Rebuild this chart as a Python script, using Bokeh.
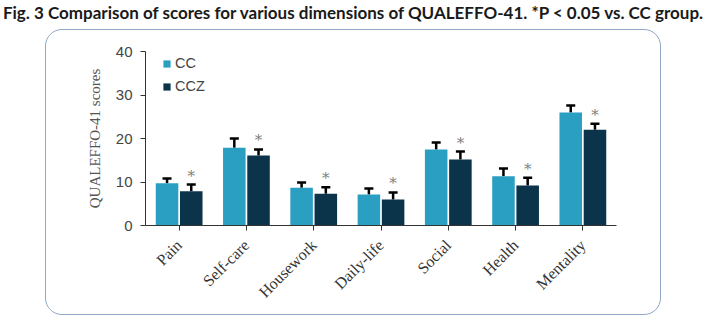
from bokeh.plotting import figure
from bokeh.models import (ColumnDataSource, FactorRange, Range1d, Whisker, TeeHead,
                          Legend, LegendItem, FixedTicker, Div)
from bokeh.layouts import column
from bokeh.transform import dodge
from bokeh.core.properties import value
from bokeh.embed import file_html
from bokeh.resources import INLINE
import math
import html

# ---- data ----
categories = ["Pain", "Self-care", "Housework", "Daily-life", "Social", "Health", "Mentality"]
cc_mean = [9.7, 17.9, 8.7, 7.1, 17.5, 11.3, 26.0]
cc_err_top = [10.8, 20.0, 9.9, 8.5, 19.1, 13.1, 27.6]
ccz_mean = [7.9, 16.1, 7.3, 6.0, 15.2, 9.2, 22.0]
ccz_err_top = [9.4, 17.5, 8.8, 7.6, 17.0, 11.0, 23.4]
series_names = ["CC", "CCZ"]
y_ticks = [0, 10, 20, 30, 40]
title_text = "Fig. 3 Comparison of scores for various dimensions of QUALEFFO-41. *P < 0.05 vs. CC group."
y_label = "QUALEFFO-41 scores"

CC_COLOR = "#2a9fc1"
CCZ_COLOR = "#0b344b"

src = ColumnDataSource(dict(cat=categories, cc=cc_mean, cc_top=cc_err_top,
                            ccz=ccz_mean, ccz_top=ccz_err_top,
                            star=["*"] * len(categories)))

W, H = 706, 329
BOX_L, BOX_R, BOX_T, BOX_B = 46, 660, 30, 314
FR_L, FR_R, FR_T, FR_B = 145, 616, 51, 225
PW, PH = BOX_R - BOX_L, BOX_B - BOX_T

p = figure(width=PW, height=PH, x_range=FactorRange(factors=categories),
           y_range=Range1d(0, 40), output_backend="svg", toolbar_location=None,
           min_border_left=FR_L - BOX_L, min_border_right=BOX_R - FR_R,
           min_border_top=FR_T - BOX_T, min_border_bottom=BOX_B - FR_B,
           margin=(0, W - BOX_R, 0, BOX_L),
           styles={"outline": "1.5px solid #8ea7c6", "border-radius": "16px"})
p.outline_line_color = None
p.xgrid.grid_line_color = None
p.ygrid.grid_line_color = None
p.background_fill_color = None
p.border_fill_color = None

off = 0.18
bw = 0.335
r1 = p.vbar(x=dodge("cat", -off, range=p.x_range), top="cc", width=bw, source=src,
            fill_color=CC_COLOR, line_color=None)
r2 = p.vbar(x=dodge("cat", off, range=p.x_range), top="ccz", width=bw, source=src,
            fill_color=CCZ_COLOR, line_color=None)

for d, base_col, top_col in ((-off, "cc", "cc_top"), (off, "ccz", "ccz_top")):
    w = Whisker(base=dodge("cat", d, range=p.x_range), lower=base_col, upper=top_col,
                source=src, dimension="height", line_color="black", line_width=2.5,
                upper_head=TeeHead(size=9, line_width=2.5, line_color="black"),
                lower_head=None)
    p.add_layout(w)

p.text(x=dodge("cat", off, range=p.x_range), y="ccz_top", text="star", source=src,
       text_align="center", text_baseline="bottom", y_offset=0,
       text_color="#808080", text_font_size="15px", text_font=value("DejaVu Serif"))

# axes
p.yaxis.ticker = FixedTicker(ticks=y_ticks)
p.yaxis.minor_tick_line_color = None
p.yaxis.major_tick_out = 5
p.yaxis.major_tick_in = 0
p.yaxis.axis_line_color = "#333333"
p.yaxis.major_tick_line_color = "#333333"
p.yaxis.major_label_text_font = "Liberation Sans"
p.yaxis.major_label_text_font_size = "15px"
p.yaxis.major_label_text_color = "#444444"
p.yaxis.major_label_standoff = 8
p.yaxis.axis_label = y_label
p.yaxis.axis_label_text_font = "Liberation Serif"
p.yaxis.axis_label_text_font_style = "normal"
p.yaxis.axis_label_text_font_size = "15px"
p.yaxis.axis_label_text_color = "#555555"
p.yaxis.axis_label_standoff = 10

p.xaxis.axis_line_color = "#333333"
p.xaxis.major_tick_line_color = "#333333"
p.xaxis.major_tick_out = 5
p.xaxis.major_tick_in = 0
p.xaxis.major_label_orientation = math.pi / 4
p.xaxis.major_label_text_font = "Liberation Serif"
p.xaxis.major_label_text_font_size = "16px"
p.xaxis.major_label_text_color = "#333333"
p.xaxis.major_label_standoff = 12

legend = Legend(items=[LegendItem(label=series_names[0], renderers=[r1]),
                       LegendItem(label=series_names[1], renderers=[r2])],
                location=(17, 131), orientation="vertical",
                glyph_width=9, glyph_height=9, label_height=10, label_standoff=4,
                spacing=7, padding=0, margin=0,
                border_line_color=None, background_fill_alpha=0,
                label_text_font="Liberation Sans", label_text_font_size="14.5px",
                label_text_color="#444444")
p.add_layout(legend)

title = Div(text=html.escape(title_text), width=W, height=BOX_T, margin=0,
            styles={"font-family": "Lato", "font-weight": "bold", "font-size": "17px",
                    "text-align": "center", "line-height": "25px", "color": "#1a1a1a",
                    "white-space": "nowrap"})

layout = column(title, p, spacing=0, margin=0)

open("out.html", "w").write(file_html(layout, INLINE))
